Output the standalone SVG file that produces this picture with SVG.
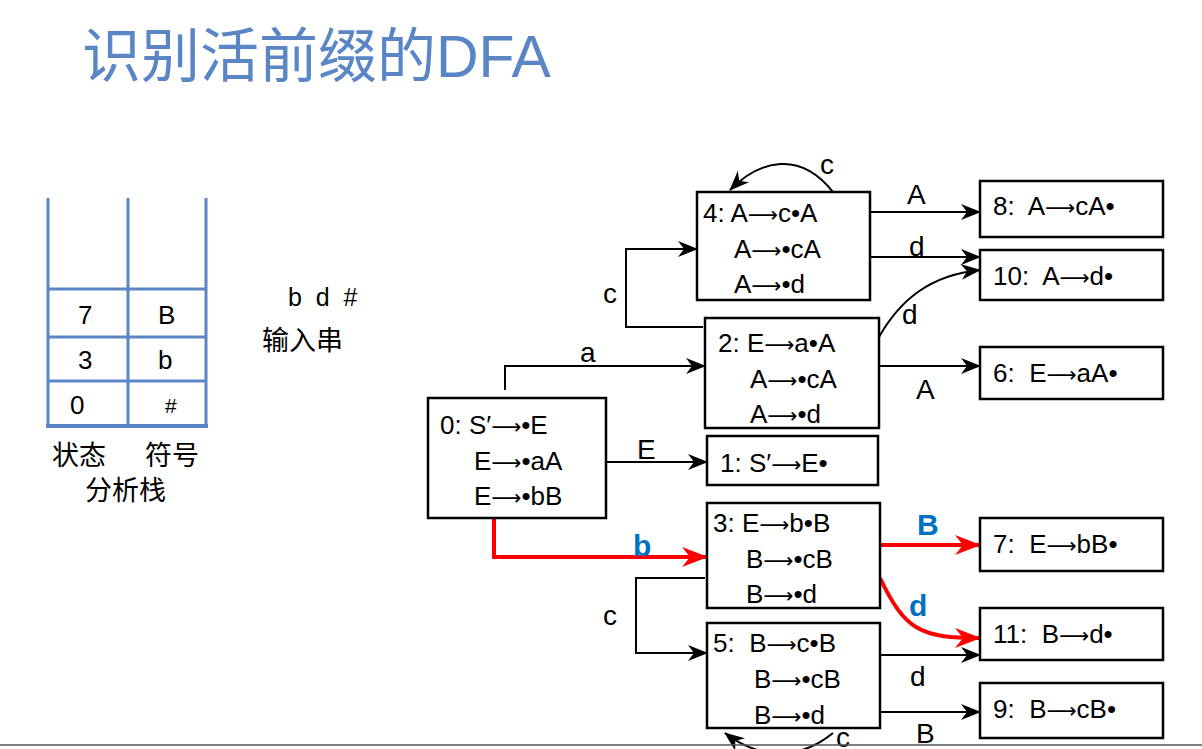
<svg xmlns="http://www.w3.org/2000/svg" width="1202" height="749" viewBox="0 0 1202 749">
<defs>
<style>
text{font-family:"Liberation Sans","Noto Sans CJK SC",sans-serif;font-size:26px;fill:#000;white-space:pre}
.cn{font-size:27px}
.l{font-size:28px}
.ar{font-family:"DejaVu Sans",sans-serif;font-size:21px}
.box{fill:#fff;stroke:#000;stroke-width:2.5}
.st{stroke:#5b86c5;stroke-width:3;fill:none}
.e{fill:none;stroke:#000;stroke-width:2}
.r{fill:none;stroke:#f00;stroke-width:4}
.bl{fill:#0070c0;font-weight:bold;font-size:30px}
</style>
<marker id="a" viewBox="0 0 20 16" refX="19" refY="8" markerWidth="20" markerHeight="16" markerUnits="userSpaceOnUse" orient="auto"><path d="M0,0 L20,8 L0,16 L6,8 Z" fill="#000"/></marker>
<marker id="ar" viewBox="0 0 26 20" refX="25" refY="10" markerWidth="26" markerHeight="20" markerUnits="userSpaceOnUse" orient="auto"><path d="M0,0 L26,10 L0,20 L8,10 Z" fill="#f00"/></marker>
</defs>
<rect width="1202" height="749" fill="#fff"/>
<text x="82" y="77" style="font-size:59px;fill:#5b86c5">识别活前缀的DFA</text>
<g id="stack">
<path class="st" d="M48,198 V428 M128,198 V428 M206,198 V428 M48,289 H206 M48,337 H206 M48,381 H206"/>
<path d="M46,426 H208" stroke="#5b86c5" stroke-width="4"/>
<text x="78" y="324">7</text><text x="158" y="324">B</text>
<text x="78" y="369">3</text><text x="158" y="369">b</text>
<text x="70" y="414">0</text><text x="165" y="413" style="font-size:21px">#</text>
<text x="52" y="465" class="cn">状态</text><text x="145" y="465" class="cn">符号</text>
<text x="85" y="500" class="cn">分析栈</text>
</g>
<g id="input"><text x="288" y="306" style="font-size:25px">b  d  #</text><text x="262" y="350" class="cn">输入串</text></g>
<g id="edges">
<path class="e" d="M505,390 V366 H705" marker-end="url(#a)"/><text x="580" y="362" class="l">a</text>
<path class="e" d="M703,327 H626 V249 H697" marker-end="url(#a)"/><text x="603" y="303" class="l">c</text>
<path class="e" d="M833,192 C800,150 760,160 730,190" marker-end="url(#a)"/><text x="820" y="174" class="l">c</text>
<path class="e" d="M870,212 H980" marker-end="url(#a)"/><text x="907" y="204" class="l">A</text>
<path class="e" d="M870,257 H980" marker-end="url(#a)"/><text x="909" y="256" class="l">d</text>
<path class="e" d="M879,337 C900,300 930,275 980,270" marker-end="url(#a)"/><text x="902" y="324" class="l">d</text>
<path class="e" d="M879,366 H980" marker-end="url(#a)"/><text x="916" y="399" class="l">A</text>
<path class="e" d="M606,462 H707" marker-end="url(#a)"/><text x="637" y="459" class="l">E</text>
<path class="r" d="M494,518 V557 H707" marker-end="url(#ar)"/><text x="633" y="556" class="bl">b</text>
<path class="r" d="M880,545 H980" marker-end="url(#ar)"/><text x="917" y="535" class="bl">B</text>
<path class="r" d="M880,578 C905,630 920,638 980,638" marker-end="url(#ar)"/><text x="909" y="616" class="bl">d</text>
<path class="e" d="M705,578 H636 V653 H707" marker-end="url(#a)"/><text x="603" y="625" class="l">c</text>
<path class="e" d="M880,655 H980" marker-end="url(#a)"/><text x="910" y="686" class="l">d</text>
<path class="e" d="M880,712 H980" marker-end="url(#a)"/><text x="916" y="743" class="l">B</text>
<path class="e" d="M833,733 C800,760 760,760 725,733" marker-end="url(#a)"/><text x="836" y="747" class="l">c</text>
</g>
<g id="n0"><rect class="box" x="428" y="398" width="178" height="120"/><text x="440" y="434">0: S′<tspan class="ar">⟶</tspan>•E</text><text x="474" y="470">E<tspan class="ar">⟶</tspan>•aA</text><text x="474" y="505">E<tspan class="ar">⟶</tspan>•bB</text></g>
<g id="n4"><rect class="box" x="697" y="192" width="173" height="108"/><text x="703" y="222">4: A<tspan class="ar">⟶</tspan>c•A</text><text x="734" y="258">A<tspan class="ar">⟶</tspan>•cA</text><text x="734" y="293">A<tspan class="ar">⟶</tspan>•d</text></g>
<g id="n2"><rect class="box" x="705" y="318" width="174" height="110"/><text x="718" y="352">2: E<tspan class="ar">⟶</tspan>a•A</text><text x="750" y="388">A<tspan class="ar">⟶</tspan>•cA</text><text x="750" y="423">A<tspan class="ar">⟶</tspan>•d</text></g>
<g id="n1"><rect class="box" x="707" y="436" width="171" height="49"/><text x="720" y="472">1: S′<tspan class="ar">⟶</tspan>E•</text></g>
<g id="n3"><rect class="box" x="707" y="503" width="173" height="105"/><text x="713" y="532">3: E<tspan class="ar">⟶</tspan>b•B</text><text x="746" y="568">B<tspan class="ar">⟶</tspan>•cB</text><text x="746" y="603">B<tspan class="ar">⟶</tspan>•d</text></g>
<g id="n5"><rect class="box" x="707" y="623" width="173" height="105"/><text x="713" y="652">5:  B<tspan class="ar">⟶</tspan>c•B</text><text x="754" y="688">B<tspan class="ar">⟶</tspan>•cB</text><text x="754" y="724">B<tspan class="ar">⟶</tspan>•d</text></g>
<g id="n8"><rect class="box" x="980" y="181" width="183" height="56"/><text x="993" y="215">8:  A<tspan class="ar">⟶</tspan>cA•</text></g>
<g id="n10"><rect class="box" x="980" y="250" width="183" height="50"/><text x="993" y="285">10:  A<tspan class="ar">⟶</tspan>d•</text></g>
<g id="n6"><rect class="box" x="980" y="347" width="183" height="52"/><text x="993" y="382">6:  E<tspan class="ar">⟶</tspan>aA•</text></g>
<g id="n7"><rect class="box" x="980" y="518" width="183" height="53"/><text x="993" y="553">7:  E<tspan class="ar">⟶</tspan>bB•</text></g>
<g id="n11"><rect class="box" x="980" y="608" width="183" height="52"/><text x="993" y="643">11:  B<tspan class="ar">⟶</tspan>d•</text></g>
<g id="n9"><rect class="box" x="980" y="683" width="183" height="55"/><text x="993" y="718">9:  B<tspan class="ar">⟶</tspan>cB•</text></g>
<path d="M0,745 H1202" stroke="#555" stroke-width="1.5"/>
</svg>
